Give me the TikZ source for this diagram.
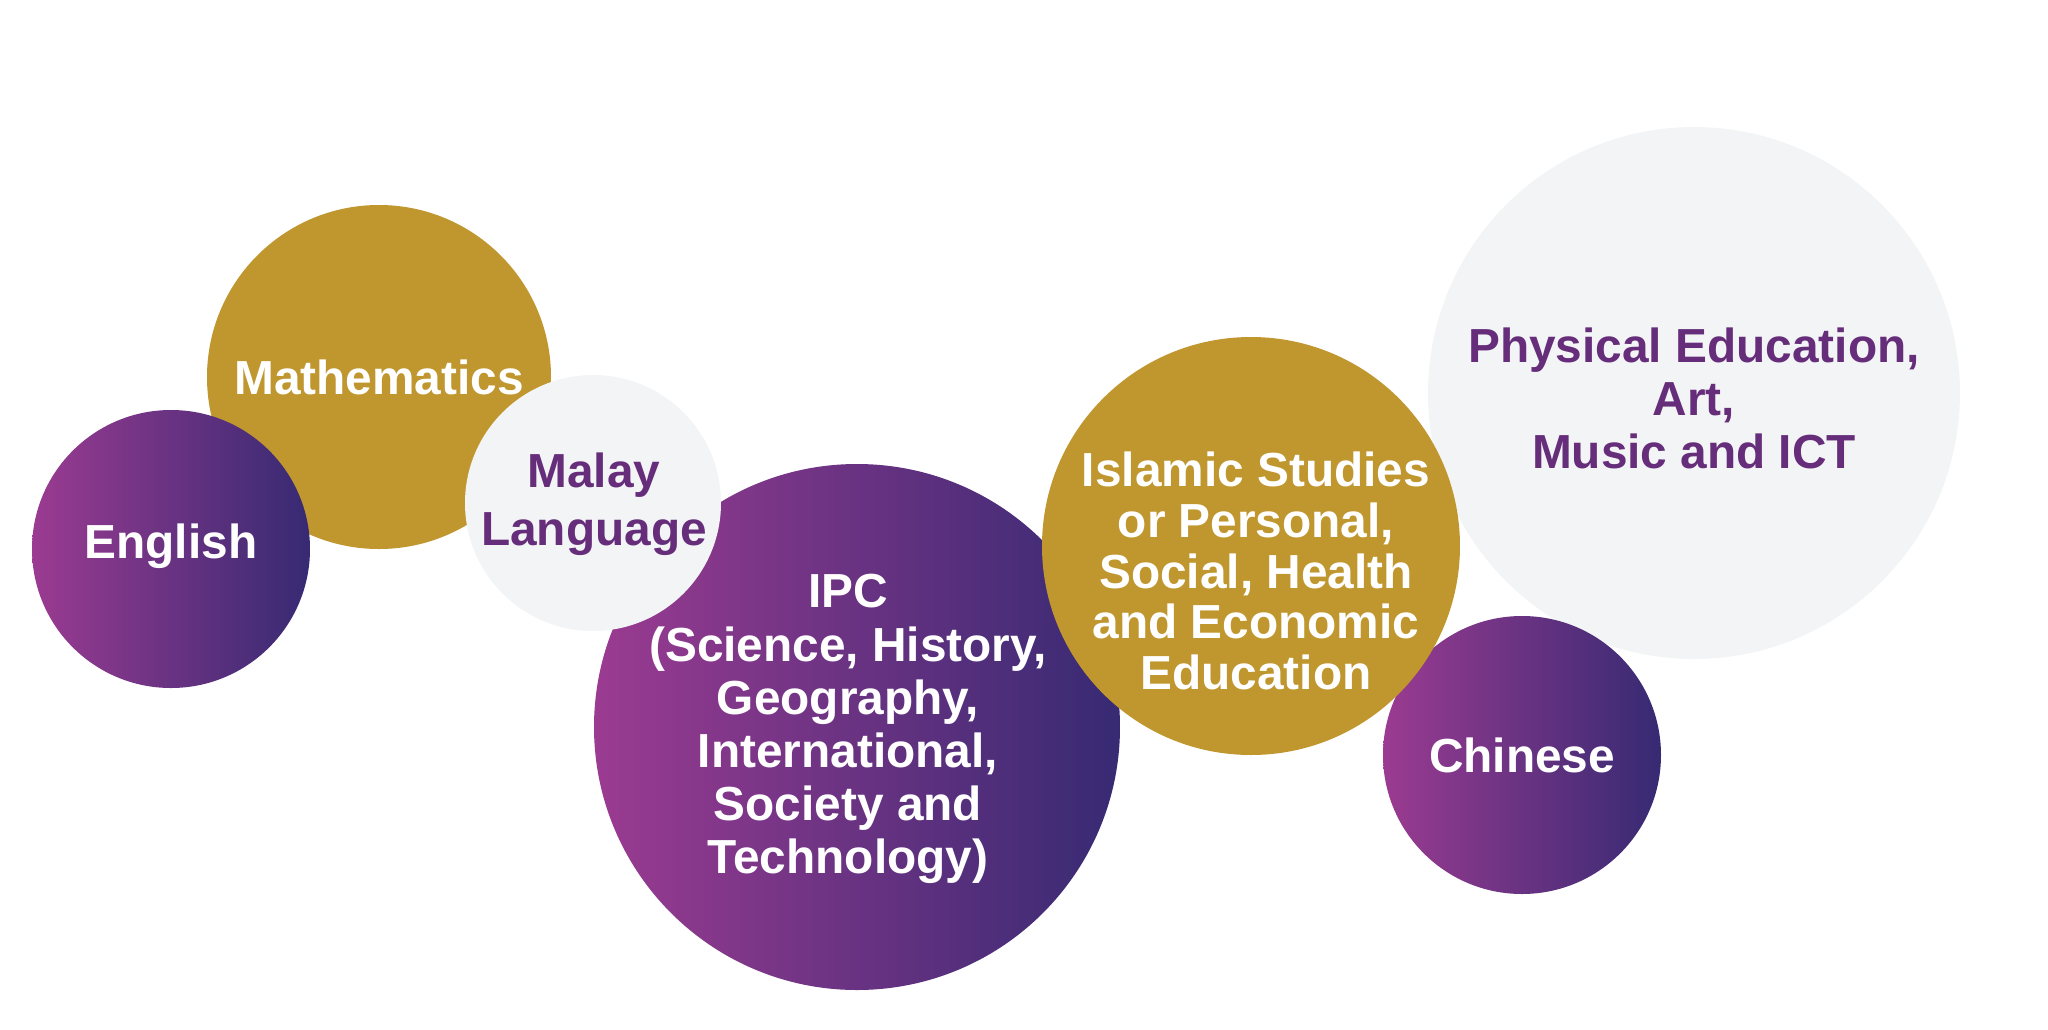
\documentclass[tikz,border=0pt]{standalone}
\usepackage{fontspec}
\setmainfont{Liberation Sans}
\usepackage{tikz}

\definecolor{gold}{HTML}{C0962E}
\definecolor{mist}{HTML}{F3F4F5}
\definecolor{plum}{HTML}{652D7A}
\definecolor{violetL}{HTML}{9B3B91}
\definecolor{violetR}{HTML}{372A73}

\tikzset{
	ball/.style={circle, inner sep=0pt},
	goldball/.style={ball, fill=gold},
	mistball/.style={ball, fill=mist},
	violetball/.style={ball, left color=violetL, right color=violetR},
	subject/.style={align=center, inner sep=0pt, font=\fontsize{13.6}{15.1}\selectfont\bfseries},
	lighttext/.style={subject, text=white},
	darktext/.style={subject, text=plum}
}

\begin{document}
\begin{tikzpicture}

	\useasboundingbox (0,0) rectangle (20.48,-10.30);

	\node[goldball, minimum size=3.44cm] (maths) at (3.79,-3.77) {};
	\node[violetball, minimum size=2.78cm] (english) at (1.71,-5.49) {};
	\node[mistball, minimum size=5.32cm] (physical) at (16.94,-3.93) {};
	\node[violetball, minimum size=2.78cm] (chinese) at (15.22,-7.55) {};
	\node[violetball, minimum size=5.26cm] (ipc) at (8.57,-7.27) {};
	\node[mistball, minimum size=2.56cm] (malay) at (5.93,-5.03) {};
	\node[goldball, minimum size=4.18cm] (islamic) at (12.51,-5.46) {};

	\node[lighttext] (mathstxt) at (maths.center) {Mathematics};
	\node[lighttext] (englishtxt) at ([yshift=0.03cm]english.center) {English};
	\node[darktext, font=\fontsize{13.6}{16.4}\selectfont\bfseries] (malaytxt) at ([xshift=0.01cm,yshift=-0.01cm]malay.center) {Malay\\Language};
	\node[lighttext] (ipctxt) at ([xshift=-0.09cm,yshift=-0.02cm]ipc.center) {IPC\\(Science, History,\\Geography,\\International,\\Society and\\Technology)};
	\node[lighttext, font=\fontsize{13.6}{14.4}\selectfont\bfseries] (islamictxt) at ([xshift=0.05cm,yshift=-0.25cm]islamic.center) {Islamic Studies\\or Personal,\\Social, Health\\and Economic\\Education};
	\node[darktext] (physicaltxt) at ([yshift=-0.05cm]physical.center) {Physical Education,\\Art,\\Music and ICT};
	\node[lighttext] (chinesetxt) at (chinese.center) {Chinese};

\end{tikzpicture}
\end{document}
